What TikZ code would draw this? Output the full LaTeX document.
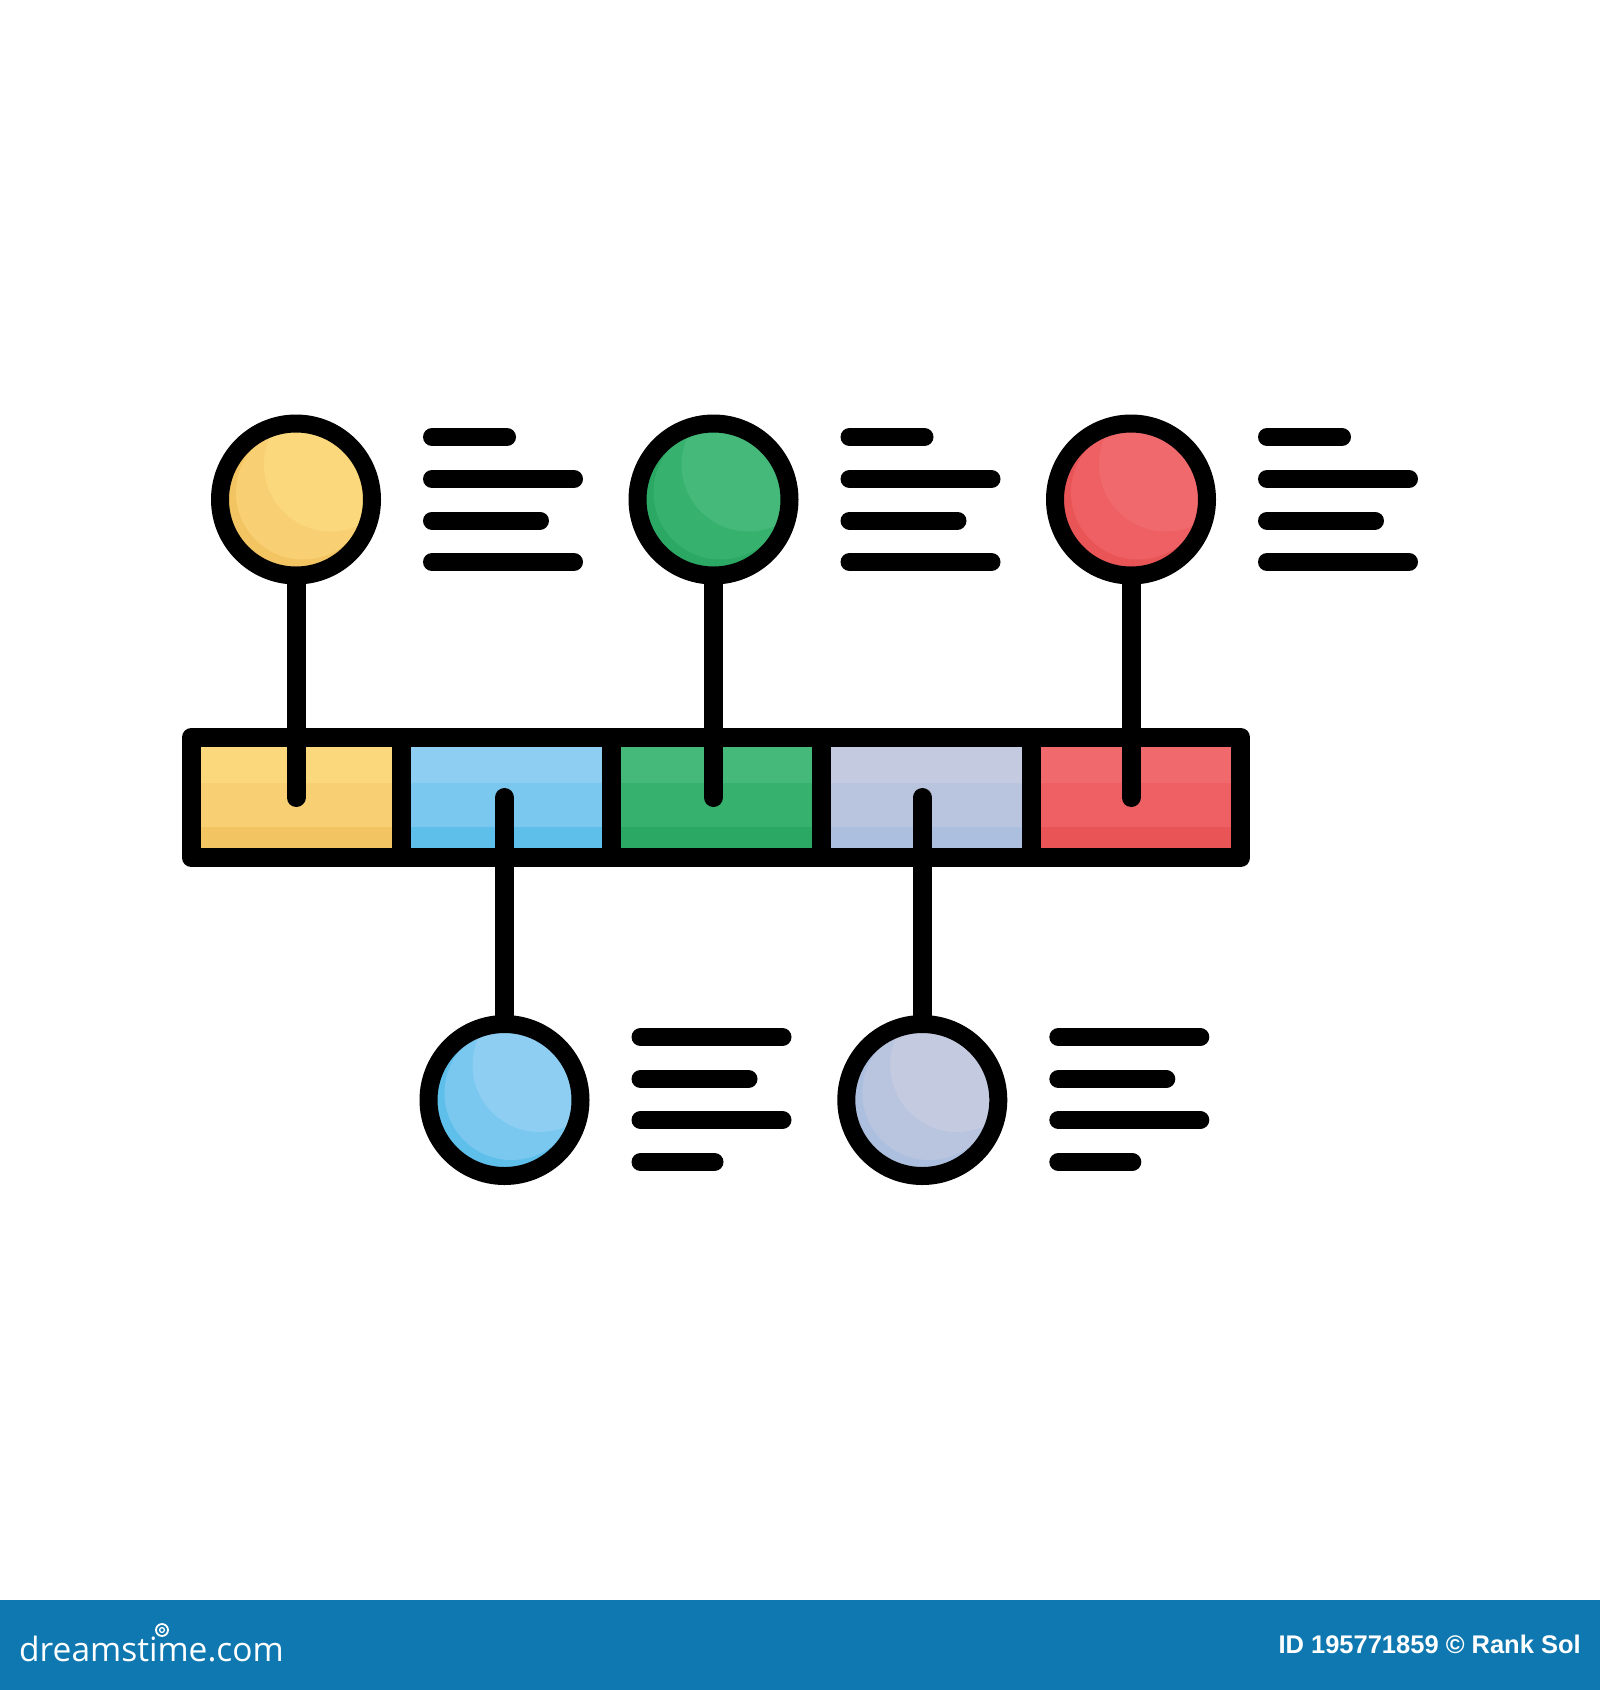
\documentclass[tikz,border=0pt]{standalone}
\usepackage{fontspec}
\setmainfont{Liberation Sans}
\newfontfamily\logofont{Open Sans}
\definecolor{yelA}{HTML}{FAD87B}
\definecolor{yelB}{HTML}{F8D073}
\definecolor{yelC}{HTML}{F3C462}
\definecolor{bluA}{HTML}{8DCEF2}
\definecolor{bluB}{HTML}{7AC7EF}
\definecolor{bluC}{HTML}{5DBFEA}
\definecolor{grnA}{HTML}{44B97A}
\definecolor{grnB}{HTML}{37B16E}
\definecolor{grnC}{HTML}{2CA865}
\definecolor{gryA}{HTML}{C4CAE0}
\definecolor{gryB}{HTML}{B9C4DF}
\definecolor{gryC}{HTML}{ADBFDE}
\definecolor{redA}{HTML}{F06A6D}
\definecolor{redB}{HTML}{EE6063}
\definecolor{redC}{HTML}{E95557}
\definecolor{banner}{HTML}{0F78B0}
\begin{document}
\begin{tikzpicture}[x=1pt,y=-1pt,
  ring/.style n args={3}{circle, draw=black, line width=18pt, minimum size=152pt, inner sep=0pt, fill=#3,
     path picture={
       \fill[#2] ([xshift=7pt,yshift=7pt]path picture bounding box.center) circle[radius=67pt];
       \fill[#1] ([xshift=35pt,yshift=35pt]path picture bounding box.center) circle[radius=67pt];}},
  cellbox/.style n args={3}{rectangle, minimum width=209.8pt, minimum height=120pt, inner sep=0pt, fill=#2,
     path picture={
       \fill[#1] (path picture bounding box.north west) rectangle ([yshift=-45.5pt]path picture bounding box.north east);
       \fill[#3] ([yshift=30.5pt]path picture bounding box.south west) rectangle (path picture bounding box.south east);}},
  barline/.style={line width=19pt, line join=round},
  stem/.style={line width=19pt, line cap=round},
  txtline/.style={line width=18pt, line cap=round},
]
\useasboundingbox (0,0) rectangle (1600,1690);
\fill[white] (0,0) rectangle (1600,1690);

% timeline cells
\node[cellbox={yelA}{yelB}{yelC}] (k1) at (296.5,797.5) {};
\node[cellbox={bluA}{bluB}{bluC}] (k2) at (506.3,797.5) {};
\node[cellbox={grnA}{grnB}{grnC}] (k3) at (716.1,797.5) {};
\node[cellbox={gryA}{gryB}{gryC}] (k4) at (925.9,797.5) {};
\node[cellbox={redA}{redB}{redC}] (k5) at (1135.7,797.5) {};
\draw[barline] (k1.north west) rectangle (k5.south east);
\foreach \k in {k1,k2,k3,k4}{
  \draw[barline] (\k.north east) -- (\k.south east);
}

% circles
\node[ring={yelA}{yelB}{yelC}] (c1) at (296,499.5) {};
\node[ring={bluA}{bluB}{bluC}] (c2) at (504.5,1100) {};
\node[ring={grnA}{grnB}{grnC}] (c3) at (713.5,499.5) {};
\node[ring={gryA}{gryB}{gryC}] (c4) at (922.3,1100) {};
\node[ring={redA}{redB}{redC}] (c5) at (1131,499.5) {};

% stems
\draw[stem] (c1.south) -- (c1.south |- k1.center);
\draw[stem] (c2.north) -- (c2.north |- k2.center);
\draw[stem] (c3.south) -- (c3.south |- k3.center);
\draw[stem] (c4.north) -- (c4.north |- k4.center);
\draw[stem] (c5.south) -- (c5.south |- k5.center);

% text placeholder lines, top
\foreach \c in {c1,c3,c5}{
  \draw[txtline] (\c.center) ++(136,-62.5) -- ++(75,0);
  \draw[txtline] (\c.center) ++(136,-20.5) -- ++(142,0);
  \draw[txtline] (\c.center) ++(136,21) -- ++(108,0);
  \draw[txtline] (\c.center) ++(136,62.5) -- ++(142,0);
}
% text placeholder lines, bottom
\foreach \c in {c2,c4}{
  \draw[txtline] (\c.center) ++(136,-63) -- ++(142,0);
  \draw[txtline] (\c.center) ++(136,-21) -- ++(108,0);
  \draw[txtline] (\c.center) ++(136,20) -- ++(142,0);
  \draw[txtline] (\c.center) ++(136,62) -- ++(74,0);
}

% banner
\fill[banner] (0,1600) rectangle (1600,1690);
\node[anchor=base west, inner sep=0pt, text=white, font=\logofont\fontsize{33.5}{33.5}\selectfont] (logo) at (19,1661.7) {dreamstime.com};
\draw[white, line width=1.8pt] (162,1630) circle[radius=6pt];
\draw[white, line width=1.3pt] (162,1630) circle[radius=2.4pt];
\node[anchor=base east, inner sep=0pt, text=white, font=\bfseries\fontsize{25.5}{25.5}\selectfont] (credit) at (1581,1653.3) {ID 195771859 © Rank Sol};
\end{tikzpicture}
\end{document}
